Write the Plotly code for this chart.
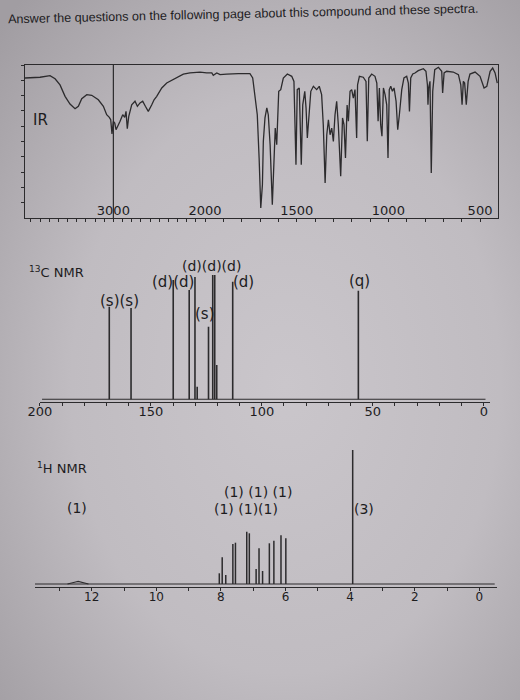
import base64
import plotly.graph_objects as go

W, H = 520, 700

# ---------------- data ----------------
# IR spectrum (wavenumber cm-1, %T)
ir_wn = [3964, 3800, 3691, 3636, 3582, 3527, 3473, 3418, 3382, 3345, 3290, 3236, 3164, 3109, 3073, 3044,
         3029, 3015, 3000, 2985, 2971, 2949, 2927, 2898, 2876, 2862, 2848, 2832, 2800, 2764, 2738, 2709,
         2680, 2651, 2619, 2581, 2556, 2527, 2472, 2418, 2346, 2291, 2237, 2164,
         2055, 1991, 1963, 1955, 1936, 1918, 1882, 1818, 1755, 1740, 1727, 1715, 1705, 1696, 1687, 1682,
         1673, 1663, 1655, 1645, 1633, 1624, 1617, 1609, 1602, 1598, 1587, 1573, 1551, 1527, 1515, 1504,
         1497, 1486, 1475, 1467, 1456, 1449, 1442, 1434, 1423, 1409, 1391, 1377, 1364, 1355, 1345, 1336,
         1327, 1318, 1309, 1300, 1291, 1282, 1273, 1260,
         1250, 1242, 1234, 1225, 1218, 1209, 1200, 1191, 1182, 1173, 1168, 1158, 1137, 1122, 1115, 1107,
         1091, 1073, 1063, 1056, 1049, 1042, 1035, 1027, 1018, 1009, 1002, 995, 987, 978, 969, 958, 949,
         940, 927, 915, 900, 891, 885, 878, 867, 855, 837, 809, 795, 787, 784, 780, 773, 766, 758, 747,
         727, 709, 704, 696, 682, 646, 618, 605, 598, 591, 584, 575, 565, 555, 527, 500, 478, 463, 445,
         431, 418, 406]
ir_t = [91.5, 92, 93, 91, 87, 79.5, 74.5, 71.4, 73, 78, 80.6, 80.2, 77.3, 73, 67.5, 65.8,
        64.2, 55, 63.2, 62, 57.7, 60, 63.2, 67.5, 65.8, 69.7, 58.4, 66.5, 74, 76.3, 73, 75.2,
        76.3, 73, 69.7, 74, 77.3, 79.5, 85, 88.2, 90.4, 92, 94, 94.8,
        95.4, 94.8, 94.8, 93.3, 94.8, 93.7, 94.1, 94.3, 94.3, 91.5, 80.6, 67.5, 39.2, 6.5, 21.8, 50.1,
        65.4, 72, 67.5, 47.9, 8.7, 39.2, 58.8, 47.9, 72, 82.8, 83.9, 91.5, 94.1, 92.6, 89.3, 34.8,
        83.9, 85, 34.8, 74, 82.8, 72, 52.3, 67.5, 82.8, 86.1, 83.9, 86.1, 80.6, 61, 22.9, 54.4,
        64.2, 54.4, 58.8, 50.1, 67.5, 76.3, 61, 27.3,
        65.4, 61, 39.2, 73.9, 63.2, 82.8, 83.9, 78.4, 83.9, 52.3, 87.1, 92.6, 92, 89.3, 50.1, 91.5,
        94.1, 92.6, 88.2, 63.2, 85, 61, 53.4, 85, 80.6, 74, 39.2, 83.9, 86.1, 82.8, 85, 76.3, 57.7,
        67.5, 83.9, 91.5, 92.6, 88.2, 69.7, 91.5, 94.1, 94.8, 96.3, 97.6, 95.9, 87.1, 74, 85, 89.3, 29.4, 82.8, 96.9,
        98.5, 95.9, 81.7, 94.8, 95.9, 95.4, 93.7, 87.1, 74, 89.3, 88.2, 74, 89.3, 94.1, 95.4, 92.6, 85, 86.1, 95.9,
        98, 94.8, 88.2]
ir_tick_labels = [3000, 2000, 1500, 1000, 500]

# 13C NMR stick spectrum (ppm, relative height)
c13_ppm = [168.7, 158.9, 139.9, 132.7, 130.1, 129.1, 124.0, 122.1, 121.2, 120.3, 113.1, 56.5]
c13_int = [92.6, 91.3, 119.3, 109.3, 122.3, 12.6, 72.6, 124.3, 124.3, 34.3, 117.6, 108.6]
c13_tick_labels = [200, 150, 100, 50, 0]
c13_mult = ["(s)(s)", "(d)(d)", "(d)(d)(d)", "(s)", "(d)", "(q)"]

# 1H NMR stick spectrum (ppm, relative height)
h1_ppm = [8.05, 7.96, 7.85, 7.63, 7.55, 7.20, 7.12, 6.91, 6.82, 6.71, 6.50, 6.36, 6.14, 5.99, 3.92]
h1_int = [10.7, 26.7, 9.0, 40.0, 41.3, 52.3, 50.7, 15.0, 35.7, 13.0, 40.7, 43.3, 48.7, 45.7, 134.0]
h1_hump_ppm = [12.75, 12.6, 12.5, 12.42, 12.34, 12.25, 12.1]
h1_hump_int = [0, 0.8, 2.0, 2.6, 2.0, 0.8, 0]
h1_tick_labels = [12, 10, 8, 6, 4, 2, 0]
h1_integrals = ["(1)", "(1) (1) (1)", "(1) (1)(1)", "(3)"]

# ---------------- helpers ----------------
def ir_u(wn):
    # chart uses half scale above 2000 cm-1
    return wn if wn <= 2000 else 2000 + (wn - 2000) / 2.0

def sticks(xs, ys):
    X, Y = [], []
    for x, y in zip(xs, ys):
        X += [x, x, None]
        Y += [0, y, None]
    return X, Y

def px(x):
    return x / W

def py(y):
    return 1 - y / H

INK = "#2c2b2d"
TXT = "#1d1c1e"
FONT = "DejaVu Sans"

fig = go.Figure()

# IR trace
fig.add_trace(go.Scatter(x=[ir_u(w) for w in ir_wn], y=ir_t, mode="lines",
                         line=dict(color=INK, width=1.3), xaxis="x", yaxis="y",
                         hoverinfo="skip", showlegend=False))

# 13C sticks
cx, cy = sticks(c13_ppm, c13_int)
fig.add_trace(go.Scatter(x=cx, y=cy, mode="lines", line=dict(color=INK, width=1.6),
                         xaxis="x2", yaxis="y2", hoverinfo="skip", showlegend=False))

# 1H sticks + broad hump
hx, hy = sticks(h1_ppm, h1_int)
fig.add_trace(go.Scatter(x=hx, y=hy, mode="lines", line=dict(color=INK, width=1.5),
                         xaxis="x3", yaxis="y3", hoverinfo="skip", showlegend=False))
fig.add_trace(go.Scatter(x=h1_hump_ppm, y=h1_hump_int, mode="lines", line=dict(color=INK, width=1.2),
                         xaxis="x3", yaxis="y3", hoverinfo="skip", showlegend=False))

# ---------------- axes ----------------
ir_minor = [ir_u(w) for w in range(400, 4000, 100) if w not in ir_tick_labels]
c13_minor = [v for v in range(0, 201, 10) if v not in c13_tick_labels]
h1_minor = [v for v in range(0, 14) if v not in h1_tick_labels]

def xcommon(minor_vals):
    return dict(showgrid=False, zeroline=False, showline=True, linecolor=INK, linewidth=1.3,
                ticks="outside", ticklen=3, tickwidth=1, tickcolor=INK, fixedrange=True,
                automargin=False, tickmode="array",
                minor=dict(tickmode="array", tickvals=minor_vals, ticks="outside", ticklen=3,
                           tickwidth=1, tickcolor=INK, showgrid=False))

# paper background: soft photographic lighting
svg = ('<svg xmlns="http://www.w3.org/2000/svg" width="520" height="700">'
       '<defs><radialGradient id="g" cx="0.55" cy="0.55" r="0.75">'
       '<stop offset="0" stop-color="#cac6cb"/><stop offset="0.55" stop-color="#c0bcc1"/>'
       '<stop offset="1" stop-color="#a19da2"/></radialGradient></defs>'
       '<rect width="520" height="700" fill="url(#g)"/></svg>')
bg_uri = "data:image/svg+xml;base64," + base64.b64encode(svg.encode()).decode()

fig.update_layout(
    width=W, height=H,
    margin=dict(l=0, r=0, t=0, b=0, pad=0),
    paper_bgcolor="#bebbc0", plot_bgcolor="rgba(0,0,0,0)",
    showlegend=False,
    images=[dict(source=bg_uri, xref="paper", yref="paper", x=0, y=1, sizex=1, sizey=1,
                 xanchor="left", yanchor="top", sizing="stretch", layer="below")],
    xaxis=dict(**xcommon(ir_minor), domain=[px(25), px(498)], range=[ir_u(3964), ir_u(402)],
               anchor="y", mirror=True, tickvals=[ir_u(w) for w in ir_tick_labels],
               ticktext=[str(w) for w in ir_tick_labels],
               ticklabelposition="inside", tickfont=dict(family=FONT, size=13, color=TXT)),
    yaxis=dict(domain=[py(218), py(65)], range=[0, 100], anchor="x", showgrid=False, zeroline=False,
               showline=True, mirror=True, linecolor=INK, linewidth=1.3, ticks="outside", ticklen=3,
               tickcolor=INK, tickmode="array", tickvals=list(range(0, 101, 10)), showticklabels=False,
               fixedrange=True, automargin=False),
    xaxis2=dict(**xcommon(c13_minor), domain=[px(39.8), px(490)], range=[200, -2.8], anchor="y2",
                tickvals=c13_tick_labels, ticktext=[str(v) for v in c13_tick_labels],
                ticklabelstandoff=-5, tickfont=dict(family=FONT, size=13, color=TXT)),
    yaxis2=dict(domain=[py(401.5), py(255)], range=[-2.2, 144.3], anchor="x2", visible=False,
                fixedrange=True, automargin=False),
    xaxis3=dict(**xcommon(h1_minor), domain=[px(35), px(497)], range=[13.756, -0.548], anchor="y3",
                tickvals=h1_tick_labels, ticktext=[str(v) for v in h1_tick_labels],
                ticklabelstandoff=-5, tickfont=dict(family=FONT, size=12, color=TXT)),
    yaxis3=dict(domain=[py(587), py(440)], range=[-3, 144], anchor="x3", visible=False,
                fixedrange=True, automargin=False),
)

# vertical divider at 3000 cm-1 in IR box
fig.add_shape(type="line", xref="x", yref="y domain", x0=ir_u(3000), x1=ir_u(3000), y0=0, y1=1,
              line=dict(color=INK, width=1.2))
# spectrum baselines just above the NMR axes
fig.add_shape(type="line", xref="x2 domain", yref="y2", x0=0.005, x1=0.99, y0=0, y1=0,
              line=dict(color=INK, width=1.1))
fig.add_shape(type="line", xref="x3 domain", yref="y3", x0=0.0, x1=0.995, y0=0, y1=0,
              line=dict(color=INK, width=1.1))

def note(text, x, y, size=15, anchor="center", angle=0, family=FONT):
    fig.add_annotation(text=text, x=px(x), y=py(y), xref="paper", yref="paper",
                       xanchor=anchor, yanchor="middle", showarrow=False, textangle=angle,
                       font=dict(family=family, size=size, color=TXT))

note("Answer the questions on the following page about this compound and these spectra.",
     243, 14, size=12.6, angle=-1.3, family="Liberation Sans, Arial")
note("IR", 40.5, 120, size=15)

note("<sup>13</sup>C NMR", 26.7, 272, size=13, anchor="left")
note(c13_mult[0], 119, 301)
note(c13_mult[1], 172.5, 282)
note(c13_mult[2], 211, 266, size=14)
note(c13_mult[3], 205, 314)
note(c13_mult[4], 243, 282)
note(c13_mult[5], 359, 281)

note("<sup>1</sup>H NMR", 35, 468, size=13, anchor="left")
note(h1_integrals[0], 77, 508, size=14)
note(h1_integrals[1], 258, 492, size=14)
note(h1_integrals[2], 246, 509, size=14)
note(h1_integrals[3], 364, 509, size=14)

fig.write_html("out.html")
